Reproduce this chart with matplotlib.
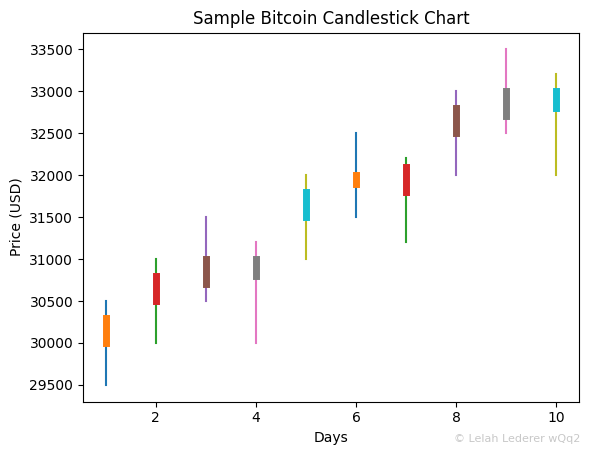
import matplotlib
matplotlib.use("Agg")
import matplotlib.pyplot as plt

days = [1, 2, 3, 4, 5, 6, 7, 8, 9, 10]
open_price = [30000, 30500, 30700, 30800, 31500, 31900, 31800, 32500, 32700, 32800]
close_price = [30300, 30800, 31000, 31000, 31800, 32000, 32100, 32800, 33000, 33000]
high_price = [30500, 31000, 31500, 31200, 32000, 32500, 32200, 33000, 33500, 33200]
low_price = [29500, 30000, 30500, 30000, 31000, 31500, 31200, 32000, 32500, 32000]

fig = plt.figure(figsize=(5.89, 4.55), dpi=100)
ax = fig.add_axes([83/589, 1 - 401.7/455, 496/589, 369.2/455])

for i in range(len(days)):
    ax.plot([days[i], days[i]], [low_price[i], high_price[i]])                 # wick
    ax.plot([days[i], days[i]], [open_price[i], close_price[i]], linewidth=5)  # body

ax.set_title("Sample Bitcoin Candlestick Chart")
ax.set_xlabel("Days")
ax.set_ylabel("Price (USD)")

fig.text(0.985, 0.025, "\u00a9 Lelah Lederer wQq2", ha="right", va="bottom",
         fontsize=8, color="#c8c8c8")

fig.savefig("out.png", dpi=100)
